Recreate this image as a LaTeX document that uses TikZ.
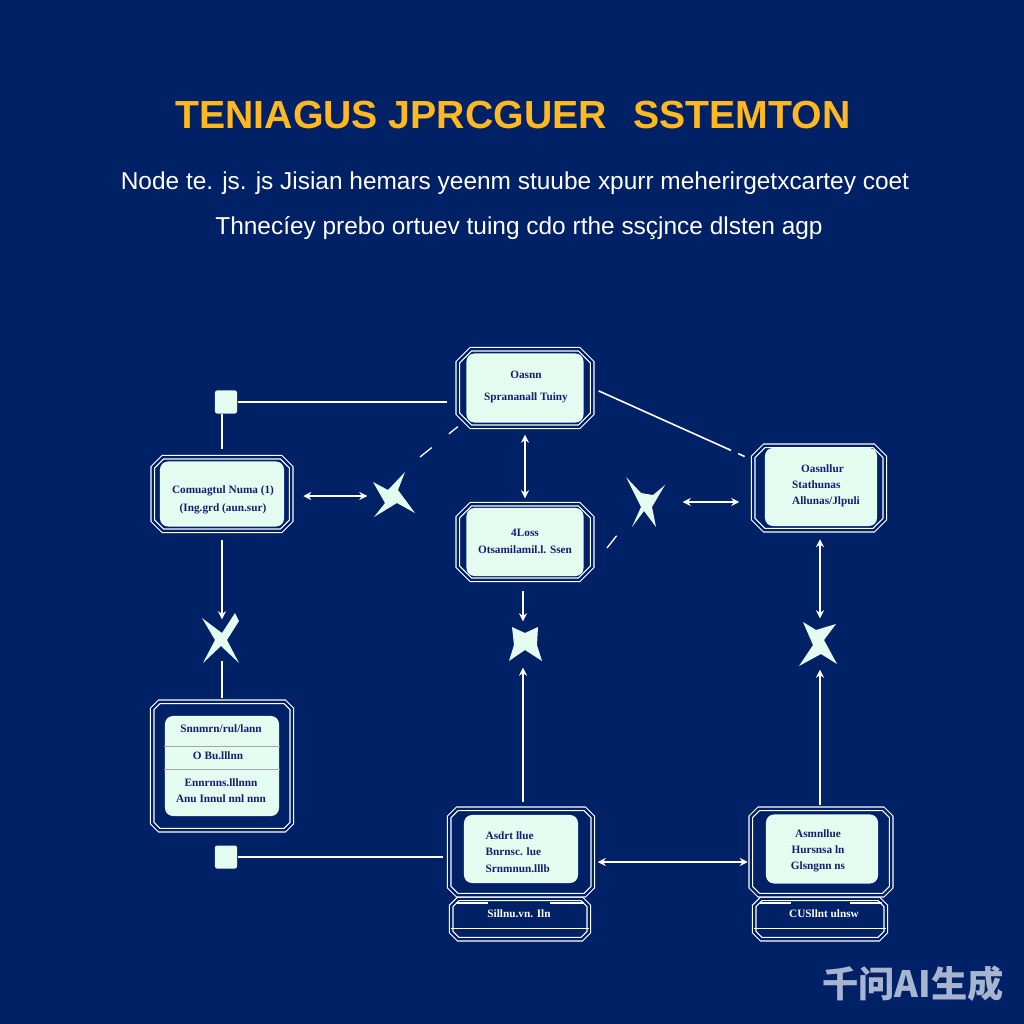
\documentclass[tikz,border=0pt]{standalone}
\usepackage{fontspec}
\setmainfont{Liberation Sans}
\newfontfamily\bodyfont{Liberation Serif}
\newfontfamily\cjkfont{Noto Sans CJK SC}
\usetikzlibrary{arrows.meta}
\definecolor{navy}{RGB}{1,33,103}
\definecolor{mint}{RGB}{228,251,240}
\definecolor{gold}{RGB}{255,184,31}
\definecolor{ink}{RGB}{20,30,110}
\definecolor{mark}{RGB}{168,181,208}
\tikzset{
  frame/.style={inner sep=0pt},
  frameline/.style={draw=white,line width=0.012cm,double=navy,double distance=0.022cm},
  screen/.style={fill=mint,rounded corners=0.08cm,inner sep=0pt},
  boxtext/.style={text=ink,font=\bodyfont\bfseries\fontsize{3.2}{4.6}\selectfont,align=center,inner sep=0pt},
  basetext/.style={text=white,font=\bodyfont\bfseries\fontsize{3.2}{4.6}\selectfont,inner sep=0pt},
  subline/.style={text=white,font=\fontsize{6.95}{9}\selectfont},
  plug/.style={fill=mint,rounded corners=0.02cm,minimum width=0.22cm,minimum height=0.23cm,inner sep=0pt},
  hub/.style={circle,inner sep=0pt,minimum size=0.5cm},
  conn/.style={draw=white,line width=0.02cm,>={Stealth[length=0.08cm,width=0.08cm]}},
  thinconn/.style={draw=white,line width=0.013cm},
  starfill/.style={fill=mint}
}
\newcommand{\cutframe}[2]{\draw[frameline] ([xshift=#2]#1.north west) -- ([xshift=-#2]#1.north east) -- ([yshift=-#2]#1.north east) -- ([yshift=#2]#1.south east) -- ([xshift=-#2]#1.south east) -- ([xshift=#2]#1.south west) -- ([yshift=#2]#1.south west) -- ([yshift=-#2]#1.north west) -- cycle;}
\begin{document}
\begin{tikzpicture}[x=0.01cm,y=-0.01cm]
\fill[navy] (0,0) rectangle (1024,1024);
\useasboundingbox (0,0) rectangle (1024,1024);

\node (title) at (513,115) {\color{gold}\bfseries\fontsize{11.15}{14}\selectfont TENIAGUS JPRCGUER\hspace{0.4em} SSTEMTON};
\node[subline] (sub1) at (515,183) {Node te. js. js Jisian hemars yeenm stuube xpurr meherirgetxcartey coet};
\node[subline] (sub2) at (519,228) {Thnecíey prebo ortuev tuing cdo rthe ssçjnce dlsten agp};

\node[frame,minimum width=1.33cm,minimum height=0.76cm] (topframe) at (525,388) {};
\node[frame,minimum width=1.37cm,minimum height=0.72cm] (leftframe) at (222,494) {};
\node[frame,minimum width=1.33cm,minimum height=0.74cm] (midframe) at (525,542) {};
\node[frame,minimum width=1.30cm,minimum height=0.83cm] (rightframe) at (819,488) {};
\node[frame,minimum width=1.38cm,minimum height=1.27cm] (rackframe) at (222,766) {};
\node[frame,minimum width=1.36cm,minimum height=0.39cm] (basea) at (520,919) {};
\node[frame,minimum width=1.42cm,minimum height=0.85cm] (serverframea) at (521,852) {};
\node[frame,minimum width=1.30cm,minimum height=0.39cm] (baseb) at (820,919) {};
\node[frame,minimum width=1.39cm,minimum height=0.85cm] (serverframeb) at (821,852) {};
\foreach \frm/\cut in {topframe/0.13cm,leftframe/0.1cm,midframe/0.13cm,rightframe/0.11cm,rackframe/0.07cm,basea/0.07cm,serverframea/0.08cm,baseb/0.07cm,serverframeb/0.08cm} {
  \cutframe{\frm}{\cut}
}

\node[screen,minimum width=1.17cm,minimum height=0.69cm] (topbox) at (525,388) {};
\node[boxtext] (toplabel) at (526,387) {Oasnn\\[1.4pt]Sprananall Tuiny};
\node[screen,minimum width=1.24cm,minimum height=0.65cm] (leftbox) at (222,494) {};
\node[boxtext] (leftlabel) at (223,500) {Comuagtul Numa (1)\\[0.5pt](Ing.grd (aun.sur)};
\node[screen,minimum width=1.17cm,minimum height=0.68cm] (midbox) at (525,542) {};
\node[boxtext] (midlabel) at (525,541) {4Loss\hspace{0.6em}\\[0.2pt]Otsamilamil.l. Ssen};
\node[screen,minimum width=1.12cm,minimum height=0.78cm] (rightbox) at (821,487) {};
\node[boxtext,align=left] (rightlabel) at (826,486) {\hspace{0.8em}Oasnllur\\Stathunas\\Allunas/Jlpuli};

\node[screen,minimum width=1.14cm,minimum height=1.00cm] (rackbox) at (222,766) {};
\node[boxtext] (racktop) at (221,729) {Snnmrn/rul/lann};
\node[boxtext] (rackmid) at (218,756) {O Bu.lllnn};
\node[boxtext] (racklow) at (221,791) {Ennrnns.lllnnn\\Anu Innul nnl nnn};
\draw[gray!70,line width=0.008cm] (rackbox.west |- 0,746) -- (rackbox.east |- 0,746);
\draw[gray!70,line width=0.008cm] (rackbox.west |- 0,769) -- (rackbox.east |- 0,769);

\node[basetext] (baseatext) at (519,914) {Sillnu.vn. Iln};
\draw[white,line width=0.01cm] (basea.west |- 0,928) -- (basea.east |- 0,928);
\draw[white,line width=0.012cm] (456,903) -- (488,903) (550,903) -- (584,903);
\node[screen,minimum width=1.14cm,minimum height=0.68cm] (serverboxa) at (521,849) {};
\node[boxtext,align=left,anchor=west] (serveralabel) at (485,852) {Asdrt llue\\Bnrnsc. lue\\Srnmnun.lllb};

\node[basetext] (basebtext) at (824,914) {CUSllnt ulnsw};
\draw[white,line width=0.01cm] (baseb.west |- 0,928) -- (baseb.east |- 0,928);
\draw[white,line width=0.012cm] (760,903) -- (791,903) (850,903) -- (882,903);
\node[screen,minimum width=1.12cm,minimum height=0.69cm] (serverboxb) at (822,849) {};
\node[boxtext] (serverblabel) at (818,851) {Asmnllue\\Hursnsa ln\\Glsngnn ns};

\node[plug] (plugtop) at (226,402) {};
\node[plug] (plugbottom) at (226,857) {};

\node[hub] (crossleft) at (393,496) {};
\node[hub] (crossright) at (647,502) {};
\node[hub,minimum size=0.4cm] (crossdown) at (222,640) {};
\node[hub,minimum size=0.42cm] (crossmid) at (523,643) {};
\node[hub] (crossside) at (820,644) {};
\coordinate (dashleft) at (420,457);
\coordinate (dashmid) at (607,548);
\coordinate (slantend) at (748,458);

\draw[conn,shorten >=0.11cm] (plugtop.east) -- (plugtop.east -| topframe.west);
\draw[conn,shorten >=0.06cm] (plugbottom.east) -- (plugbottom.east -| serverframea.west);
\draw[conn,shorten >=0.08cm] (leftframe.north |- plugtop.south) -- (leftframe.north);
\draw[conn,->,shorten <=0.09cm] (leftframe.south) -- (crossdown.north);
\draw[conn,shorten >=0.04cm] (crossdown.south) -- (rackframe.north);
\draw[conn,<->,shorten <=0.12cm] (leftframe.east |- crossleft.west) -- (crossleft.west);
\draw[thinconn,dash pattern=on 0.15cm off 0.22cm] (dashleft) -- (topframe.south west);
\draw[conn,<->,line width=0.016cm,shorten <=0.08cm,shorten >=0.06cm] (topframe.south) -- (topframe.south |- midframe.north);
\draw[thinconn,line width=0.016cm,dash pattern=on 1.45cm off 0.08cm on 0.07cm off 1cm,shorten <=0.07cm] (topframe.east) -- (slantend);
\draw[conn,->,shorten <=0.11cm] (crossmid.north |- midframe.south) -- (crossmid.north);
\draw[conn,<-,shorten <=0.03cm,shorten >=0.07cm] (crossmid.south) -- (crossmid.south |- serverframea.north);
\draw[thinconn,dash pattern=on 0.155cm off 1cm] (dashmid) -- (crossright.south west);
\draw[conn,<->,shorten >=0.14cm,shorten <=0.1cm] (crossright.east) -- (crossright.east -| rightframe.west);
\draw[conn,<->,shorten <=0.09cm] (crossside.north |- rightframe.south) -- (crossside.north);
\draw[conn,<-,shorten >=0.04cm] (crossside.south) -- (crossside.south |- serverframeb.north);
\draw[conn,<->,shorten <=0.05cm,shorten >=0.03cm] (serverframea.east |- 0,862) -- (serverframeb.west |- 0,862);

\fill[starfill] (405,472) -- (398,490) -- (415,513) -- (397,503) -- (374,517) -- (385,503) -- (373,482) -- (388,490) -- cycle;
\fill[starfill] (626,477) -- (641,493) -- (653,495) -- (665,485) -- (652,507) -- (656,527) -- (644,511) -- (632,527) -- (641,507) -- cycle;
\fill[starfill] (803,622) -- (816,630) -- (836,624) -- (824,640) -- (837,664) -- (821,654) -- (799,666) -- (813,645) -- cycle;
\fill[starfill] (512,627) -- (525,633) -- (538,627) -- (537,645) -- (542,661) -- (525,650) -- (509,661) -- (514,645) -- cycle;
\fill[starfill] (202,618) -- (222,633) -- (235,613) -- (239,621) -- (227,640) -- (239,663) -- (221,646) -- (203,663) -- (215,640) -- cycle;

\node[text=mark,font=\cjkfont\bfseries\fontsize{10.3}{12}\selectfont] (watermark) at (913,984) {千问AI生成};
\end{tikzpicture}
\end{document}
